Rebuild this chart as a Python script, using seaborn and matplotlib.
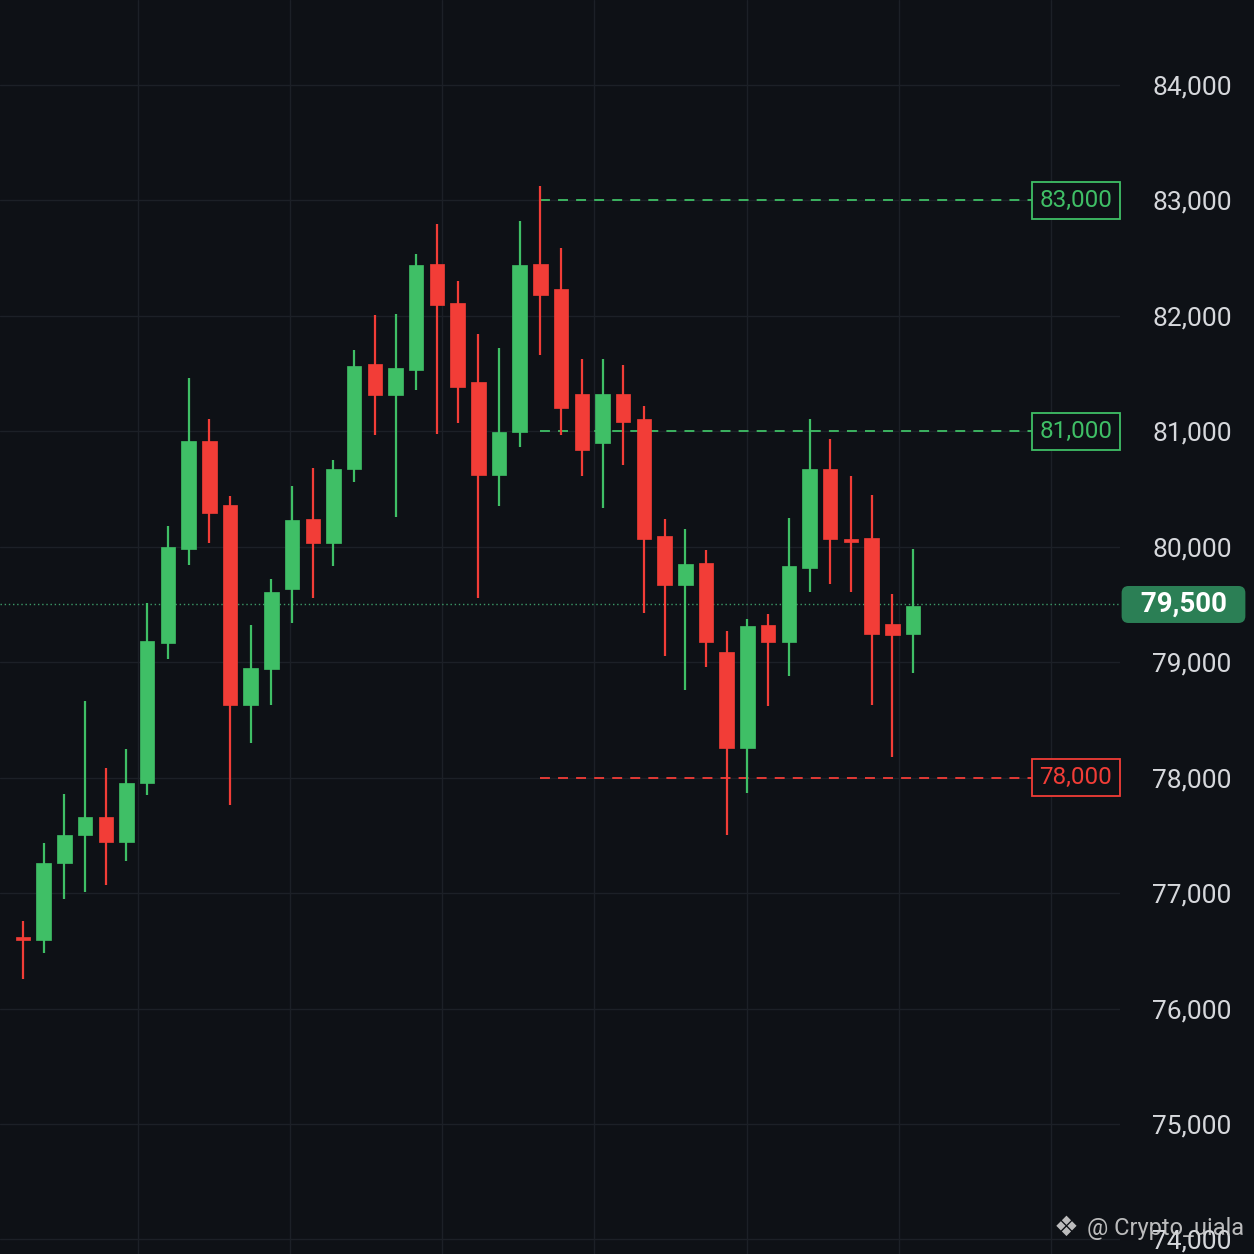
import numpy as np
import pandas as pd
import seaborn as sns
import matplotlib.pyplot as plt
from matplotlib.transforms import blended_transform_factory

# candle data (open, high, low, close)
opens = [76620, 76590, 77260, 77500, 77660, 77440, 77950, 79170, 79980, 80920,
         80360, 78630, 78940, 79630, 80240, 80030, 80675, 81585, 81315, 81530,
         82445, 82110, 81425, 80625, 80995, 82445, 82230, 81325, 80895, 81325,
         81105, 80095, 79670, 79860, 79090, 78255, 79320, 79175, 79820, 80675,
         80070, 80080, 79330, 79245]
highs = [76760, 77430, 77860, 78660, 78080, 78250, 79510, 80180, 81460, 81110,
         80440, 79320, 79720, 80530, 80680, 80750, 81705, 82005, 82020, 82540,
         82800, 82300, 81840, 81720, 82825, 83125, 82590, 81625, 81630, 81575,
         81215, 80240, 80150, 79975, 79270, 79375, 79415, 80245, 81105, 80930,
         80610, 80450, 79590, 79980]
lows = [76260, 76480, 76950, 77010, 77070, 77280, 77850, 79030, 79840, 80030,
        77760, 78300, 78630, 79340, 79560, 79830, 80560, 80970, 80255, 81355,
        80980, 81070, 79560, 80350, 80860, 81665, 80965, 80615, 80340, 80710,
        79425, 79050, 78760, 78955, 77500, 77865, 78620, 78880, 79610, 79680,
        79610, 78630, 78175, 78905]
closes = [76590, 77260, 77505, 77660, 77440, 77950, 79180, 80000, 80920, 80295,
          78630, 78950, 79610, 80235, 80030, 80675, 81570, 81315, 81545, 82440,
          82090, 81380, 80625, 80995, 82440, 82180, 81205, 80840, 81325, 81080,
          80065, 79665, 79850, 79175, 78255, 79315, 79175, 79830, 80670, 80065,
          80045, 79245, 79240, 79490]

price_ticks = list(range(74000, 85000, 1000))
resistance_levels = [83000, 81000]
support_levels = [78000]
current_price = 79500
level_start = 25  # candle index where the level lines begin
watermark = "@ Crypto_uiala"

df = pd.DataFrame({"open": opens, "high": highs, "low": lows, "close": closes})
df["idx"] = np.arange(len(df))
df["up"] = df["close"] >= df["open"]

BG = "#0e1116"
GREEN = "#3fbf66"
RED = "#f23d37"
GRID = "#1c2027"

sns.set_theme(style="dark", rc={"axes.facecolor": BG, "figure.facecolor": BG})
plt.rcParams["font.family"] = ["Roboto", "DejaVu Sans"]

fig = plt.figure(figsize=(12.54, 12.54), dpi=100)
ax = fig.add_axes([0, 0, 1120 / 1254, 1])
ax.set_facecolor(BG)

colors = np.where(df["up"], GREEN, RED)

# wicks
ax.vlines(df["idx"], df["low"], df["high"], colors=colors, lw=1.6, zorder=3)
# bodies
body_bottom = df[["open", "close"]].min(axis=1)
body_height = (df["close"] - df["open"]).abs().clip(lower=25)
ax.bar(df["idx"], body_height, bottom=body_bottom, width=0.7, color=colors,
       edgecolor=colors, linewidth=0.5, zorder=4)

# axes limits
ax.set_xlim(-1.11, 53.0)
ax.set_ylim(73874, 84736)

# grid
ax.set_yticks(price_ticks)
ax.set_yticklabels([f"{t:,}" for t in price_ticks], ha="right")
ax.set_xticks(np.arange(5.56, 53, 7.35))
ax.set_xticklabels([])
ax.grid(True, color=GRID, lw=1.0)
for s in ax.spines.values():
    s.set_visible(False)

ax.yaxis.tick_right()
ax.tick_params(axis="y", length=0, pad=80.5, labelsize=19, labelcolor="#d6d8dc")
ax.tick_params(axis="x", length=0)

# level lines with boxed labels
box_left = 48.74
box_center = 50.87
for lvl, col in [(l, GREEN) for l in resistance_levels] + [(l, RED) for l in support_levels]:
    ax.hlines(lvl, level_start, box_left, colors=col, lw=1.3,
              linestyles=(0, (5.5, 4.5)), zorder=2)
    ax.text(box_center, lvl, f"{lvl:,}", color=col, fontsize=17.5,
            ha="center", va="center", zorder=6,
            bbox=dict(boxstyle="square,pad=0.3", fc=BG, ec=col, lw=1.3))

# current price line and tag
ax.axhline(current_price, color="#3c9a68", lw=1.0, ls=(0, (1, 2)), zorder=2)
trans = blended_transform_factory(fig.transFigure, ax.transData)
ax.text(1183.5 / 1254, current_price, f"  {current_price:,}  ", transform=trans,
        color="white", fontsize=20, fontweight="bold", ha="center", va="center",
        zorder=7, clip_on=False,
        bbox=dict(boxstyle="round,pad=0.18,rounding_size=0.25", fc="#2b7f55", ec="none"))

# watermark
fig.text(1066 / 1254, 1 - 1228 / 1254, "\u2756", color="#cfcfcf", fontsize=20,
         ha="center", va="center", family=["DejaVu Sans"], alpha=0.9)
fig.text(1087 / 1254, 1 - 1228 / 1254, watermark, color="#cfcfcf", fontsize=17,
         ha="left", va="center", alpha=0.9)

fig.savefig("out.png", dpi=100, facecolor=BG)
